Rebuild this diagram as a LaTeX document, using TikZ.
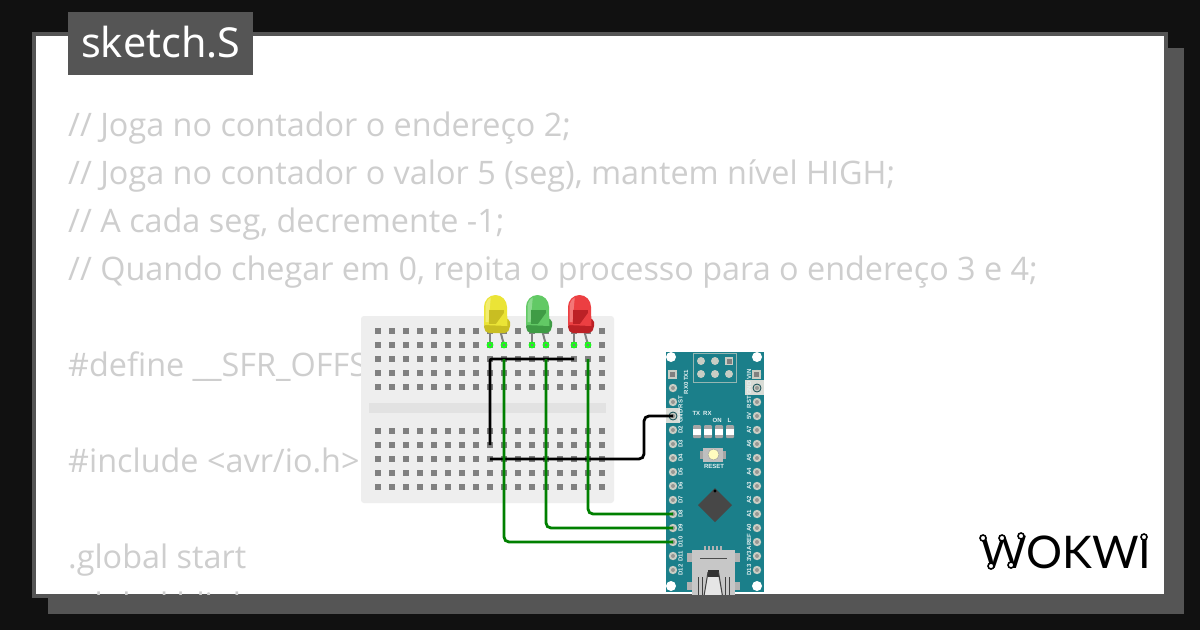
\documentclass[tikz,border=0pt]{standalone}
\usepackage{fontspec}
\setmainfont{Open Sans}
\newfontfamily\tagfont{Noto Sans}
\newfontfamily\pinfont{Liberation Sans}
\newfontfamily\logofont{Lato}
\definecolor{pagebg}{HTML}{111111}
\definecolor{framegray}{HTML}{555555}
\definecolor{codegray}{HTML}{CECECE}
\definecolor{boardbg}{HTML}{EEEEEE}
\definecolor{channelbg}{HTML}{E2E2E2}
\definecolor{holegray}{HTML}{808080}
\definecolor{nanoteal}{HTML}{1B7F8A}
\definecolor{wiregreen}{HTML}{008000}
\definecolor{padgray}{HTML}{C9CDC4}
\definecolor{ledyellowmain}{HTML}{EBE436}
\definecolor{ledyellowdark}{HTML}{C9BE22}
\definecolor{ledyellowlight}{HTML}{F6F28C}
\definecolor{ledgreenmain}{HTML}{62C965}
\definecolor{ledgreendark}{HTML}{3F9C45}
\definecolor{ledgreenlight}{HTML}{A0E2A2}
\definecolor{ledredmain}{HTML}{EC3F42}
\definecolor{ledreddark}{HTML}{BC2126}
\definecolor{ledredlight}{HTML}{F68E8E}
\tikzset{
    codeline/.style={anchor=base west, text=codegray, font=\fontsize{32.37}{32}\selectfont, inner sep=0pt},
    pinlabel/.style={rotate=90, text=white!88!nanoteal, font=\pinfont\bfseries\fontsize{6}{6}\selectfont, inner sep=0pt},
    flatlabel/.style={text=white!88!nanoteal, font=\pinfont\bfseries\fontsize{6}{6}\selectfont, inner sep=0pt},
    wirepath/.style={line width=2.8pt, rounded corners=5pt},
    padring/.style={fill=padgray, draw=none},
}
\begin{document}
\begin{tikzpicture}[x=1pt,y=-1pt]
    \useasboundingbox (0,0) rectangle (1200,630);

    % Page, shadow and frame
    \fill[pagebg] (0,0) rectangle (1200,630);
    \fill[framegray] (48,48) rectangle (1184,614);
    \fill[framegray] (32,32) rectangle (1168,598);
    \fill[white] (36,36) rectangle (1164,594);

    \begin{scope}
    \clip (36,36) rectangle (1164,594);

    % Code behind the parts
    \node[codeline] (code1) at (68,136) {// Joga no contador o endereço 2;};
    \node[codeline] (code2) at (68,184) {// Joga no contador o valor 5 (seg), mantem nível HIGH;};
    \node[codeline] (code3) at (68,232) {// A cada seg, decremente -1;};
    \node[codeline] (code4) at (68,280) {// Quando chegar em 0, repita o processo para o endereço 3 e 4;};
    \node[codeline] (code5) at (68,376) {\#define \_\_SFR\_OFFSET 0};
    \node[codeline] (code6) at (68,472) {\#include <avr/io.h>};
    \node[codeline] (code7) at (68,568) {.global start};
    \node[codeline] (code8) at (68,616) {.global blink};

    % Breadboard
    \fill[boardbg, rounded corners=3pt] (361,316) rectangle (614,503);
    \fill[channelbg] (369,403) rectangle (606,413);
    \foreach \col in {0,...,16} {
        \foreach \rowy in {331,345,359,373,387,431,445,459,473,487} {
            \fill[holegray] ({378+14*\col-2.8},\rowy-2.8) rectangle ++(5.6,5.6);
        }
    }

    % Board points used by the wires
    \coordinate (bbTopA) at (490,359);
    \coordinate (bbTopB) at (574,359);
    \coordinate (bbLowA) at (490,445);
    \coordinate (bbLowB) at (490,459);
    \coordinate (bbGrnA) at (504,359);
    \coordinate (bbGrnB) at (546,359);
    \coordinate (bbGrnC) at (588,359);

    % LEDs
    \foreach \cx/\cname in {497/yellow,539/green,581/red} {
        \draw[holegray, line width=2pt] (\cx-7,330) -- (\cx-7,345);
        \draw[holegray, line width=2pt] (\cx+3,330) -- (\cx+7,345);
        \fill[led\cname dark, rounded corners=2pt] (\cx+6,317) -- (\cx+13,320) -- (\cx+13,328) -- (\cx+10,333) -- (\cx-10,333) -- (\cx-13,329) -- (\cx-13,324) -- cycle;
        \fill[led\cname main] (\cx-13,325) -- (\cx-13,307) arc[start angle=180, end angle=360, x radius=11.5, y radius=12]
            -- (\cx+10.5,326) -- cycle;
        \fill[led\cname light, opacity=.7] (\cx-11.5,322) -- (\cx-11.5,307) arc[start angle=180, end angle=250, x radius=8, y radius=10] -- (\cx-8.5,322) -- cycle;
        \fill[led\cname dark] (\cx-8,310) rectangle (\cx+7,324);
        \fill[led\cname main] (\cx-1,324) -- (\cx+7,313) -- (\cx+7,324) -- cycle;
        \fill[green!90!white, draw=none] (\cx-7,345) circle (3.4);
        \fill[green!90!white, draw=none] (\cx+7,345) circle (3.4);
        \fill[holegray] (\cx-7,345) circle (1.3);
        \fill[holegray] (\cx+7,345) circle (1.3);
    }

    % Nano board
    \fill[nanoteal] (666,352) rectangle (764,592);
    \foreach \hx/\hy in {671/357,757/357,671/586,757/586} {
        \fill[white] (\hx,\hy) circle (5);
    }
    \fill[padgray!70!white] (666,408) rectangle (680,423);
    \fill[padgray!70!white] (745,380) rectangle (764,395);

    % ICSP header
    \draw[padgray!70!nanoteal, line width=.8pt] (693,353) rectangle (736,382);
    \foreach \hx in {701,715,729} {
        \foreach \hy in {361,374} {
            \fill[padring] (\hx,\hy) circle (4);
        }
    }
    \fill[padgray] (725,357) rectangle (733,365);
    \fill[holegray] (726.5,358.5) rectangle (731.5,363.5);

    % Pins and their labels
    \foreach \rowi/\lname in {0/,1/,2/RST,3/GND,4/D2,5/D3,6/D4,7/D5,8/D6,9/D7,10/D8,11/D9,12/D10,13/D11,14/D12} {
        \coordinate (pinL\rowi) at (673,374+14*\rowi);
        \fill[padring] (pinL\rowi) circle (4.2);
        \fill[holegray!70!padgray] (pinL\rowi) circle (2);
        \node[pinlabel] (lblL\rowi) at (680.5,374+14*\rowi) {\lname};
    }
    \foreach \rowi/\rname in {0/VIN,1/GND,2/RST,3/5V,4/A7,5/A6,6/A5,7/A4,8/A3,9/A2,10/A1,11/A0,12/AREF,13/3V3,14/D13} {
        \coordinate (pinR\rowi) at (757,374+14*\rowi);
        \fill[padring] (pinR\rowi) circle (4.2);
        \fill[holegray!70!padgray] (pinR\rowi) circle (2);
        \node[pinlabel] (lblR\rowi) at (749,374+14*\rowi) {\rname};
    }
    \draw[nanoteal!60!black, line width=.8pt] (pinL3) circle (4);
    \draw[nanoteal!60!black, line width=.8pt] (pinR1) circle (4);
    \fill[padgray] (668,370) rectangle (677,379);
    \fill[holegray] (670,372) rectangle (675,377);
    \fill[padgray] (752,370) rectangle (761,379);
    \fill[holegray] (754,372) rectangle (759,377);
    \node[pinlabel] (lblSerial) at (686,382) {RX0 TX1};

    % Status leds and reset button
    \node[flatlabel] (lblTxRx) at (702,413) {TX\hspace{3pt}RX};
    \node[flatlabel] (lblOnL) at (722,420) {ON\hspace{6pt}L};
    \foreach \lx in {697,708,719,730} {
        \fill[black!35, rounded corners=1pt] (\lx-4,425) rectangle (\lx+4,438);
        \fill[white] (\lx-4,429) rectangle (\lx+4,434.5);
    }
    \fill[black!35] (700,451) rectangle (726,459);
    \fill[black!25] (703,448) rectangle (723,462);
    \fill[yellow!25!white, draw=black!40, line width=.4pt] (713.5,454.5) circle (5.5);
    \node[flatlabel] (lblReset) at (714,466) {RESET};

    % Chip
    \fill[black!72] (715,488) -- (732,505) -- (715,522) -- (698,505) -- cycle;
    \fill[black] (715,491) circle (1.7);

    % USB connector
    \foreach \ux in {705,709,713,717,721} {
        \fill[black!30] (\ux-1,546) rectangle ++(2.4,4);
    }
    \fill[black!30] (687,553) rectangle (740,562);
    \fill[black!30] (687,582) rectangle (740,590);
    \fill[black!22] (692,550) rectangle (735,596);
    \draw[black!70, line width=1.3pt] (700,558.5) -- (727,558.5);
    \fill[white!90!black] (708,576) -- (718,576) -- (722,596) -- (704,596) -- cycle;
    \fill[black!80] (708,570) rectangle (718.5,576.5);
    \draw[black!75, line width=1pt] (708,572) -- (704,596);
    \draw[black!75, line width=1pt] (718.5,572) -- (722.5,596);
    \foreach \ux in {698,702.5,725,729} {
        \draw[black!75, line width=1pt] (\ux,577) -- (\ux,596);
    }

    % Wires
    \draw[black, wirepath, rounded corners=2pt] (bbTopB) -- (bbTopA) -- (bbLowA);
    \draw[black, wirepath] (bbLowB) -- (644,459) -- (644,416) -- (pinL3);
    \draw[wiregreen, wirepath] (bbGrnC) -- (588,514) -- (pinL10);
    \draw[wiregreen, wirepath] (bbGrnB) -- (546,528) -- (pinL11);
    \draw[wiregreen, wirepath] (bbGrnA) -- (504,542) -- (pinL12);

    % Logo
    \node[anchor=base west, inner sep=0pt, font=\logofont\fontsize{45}{45}\selectfont] (logo) at (980,568) {WOKWI};
    \foreach \dx/\dy in {983/538,1002/538,1021/536,991/566,1011/565,1144/537} {
        \draw[black, fill=white, line width=1.6pt] (\dx,\dy) circle (3);
    }
    \end{scope}

    % File tag
    \fill[framegray] (68,12) rectangle (253,75);
    \node[anchor=base west, inner sep=0pt, text=white, font=\tagfont\fontsize{41.3}{40}\selectfont] (tagname) at (81,57) {sketch.S};
\end{tikzpicture}
\end{document}
